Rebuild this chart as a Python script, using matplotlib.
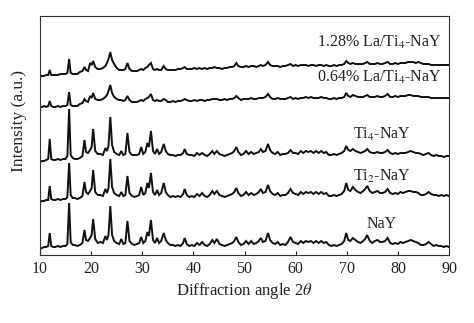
import matplotlib
matplotlib.use("Agg")
import matplotlib.pyplot as plt

plt.rcParams['font.family'] = ['Liberation Serif', 'DejaVu Serif']
plt.rcParams['mathtext.fontset'] = 'stix'

# 2-theta grid (degrees) shared by all patterns
two_theta = [
    10.0, 10.4, 10.8, 11.2, 11.6, 11.9, 12.2, 12.6, 13.0, 13.5, 14.0, 14.5, 15.0, 15.35, 15.7, 16.0, 16.4,
    16.8, 17.3, 17.8, 18.3, 18.7, 19.0, 19.4, 19.8, 20.1, 20.4, 20.8, 21.3, 21.8, 22.3, 22.8, 23.1, 23.4, 23.75, 24.1, 24.5,
    25.0, 25.5, 25.9, 26.3, 26.7, 27.1, 27.5, 28.0, 28.5, 29.0, 29.4, 29.8, 30.2, 30.6, 31.0, 31.3, 31.7, 32.1, 32.5, 32.9,
    33.3, 33.7, 34.2, 34.6, 35.0, 35.5, 36.0,
    36.5, 37.0, 37.5, 38.0, 38.3, 38.7, 39.2, 39.7, 40.2, 40.7, 41.2, 41.7, 42.2, 42.7, 43.2, 43.7, 44.1, 44.6, 45.1, 45.6,
    46.1, 46.6, 47.1, 47.6, 48.0, 48.4, 48.8, 49.3, 49.8, 50.3, 50.8, 51.3, 51.8, 52.3, 52.8, 53.2, 53.6, 54.1, 54.6, 55.0,
    55.5, 56.0, 56.5, 57.0, 57.5, 58.0, 58.5, 59.0, 59.5, 60.0,
    60.5, 61.0, 61.5, 62.0, 62.5, 63.0, 63.5, 64.0, 64.5, 65.0, 65.5, 66.0, 66.5, 67.0, 67.5, 68.0, 68.5, 69.0, 69.5, 69.9,
    70.3, 70.7, 71.2, 71.7, 72.2, 72.7, 73.2, 73.6, 74.0, 74.5, 75.0, 75.5, 76.0, 76.5, 77.0, 77.5, 78.0, 78.5, 79.0, 79.5,
    80.0, 80.5, 81.0, 81.5, 82.0, 82.5, 83.0, 83.5, 84.0, 84.5, 85.0, 85.5, 86.0, 86.5, 87.0, 87.5, 88.0, 88.5, 89.0, 89.5, 90.0,
]

# intensities (a.u.)
nay = [
    6, 7, 8, 8, 9, 22, 9, 8, 8, 9, 8, 9, 9, 11, 52, 13, 10,
    10, 9, 10, 12, 25, 15, 14, 17, 20, 36, 16, 12, 13, 12, 19, 15, 20, 49, 20, 14,
    12, 11, 16, 11, 12, 34, 14, 11, 10, 11, 12, 18, 12, 14, 23, 19, 35, 15, 12, 17,
    12, 14, 22, 15, 12, 10, 10,
    9, 10, 9, 12, 17, 11, 9, 10, 9, 12, 10, 13, 10, 9, 11, 15, 12, 16, 11, 10,
    9, 10, 11, 12, 14, 18, 13, 10, 11, 14, 11, 14, 11, 12, 14, 17, 13, 14, 22, 15,
    12, 11, 13, 10, 11, 10, 13, 18, 13, 12,
    11, 14, 12, 14, 13, 14, 12, 14, 12, 14, 12, 13, 10, 9, 10, 9, 10, 11, 14, 22,
    15, 14, 17, 15, 13, 12, 14, 16, 20, 14, 12, 14, 15, 13, 13, 14, 17, 12, 11, 12,
    11, 13, 12, 13, 14, 15, 14, 13, 12, 10, 10, 11, 13, 11, 9, 10, 9, 9, 8, 9, 8,
]
ti2_nay = [
    7, 8, 8, 9, 9, 23, 10, 9, 9, 10, 9, 10, 10, 12, 46, 14, 11,
    11, 10, 11, 13, 27, 17, 15, 18, 21, 39, 17, 14, 14, 13, 20, 16, 21, 50, 22, 16,
    14, 13, 17, 13, 14, 33, 16, 13, 12, 13, 14, 22, 14, 16, 26, 21, 36, 17, 14, 19,
    14, 16, 26, 17, 14, 12, 13,
    12, 13, 12, 15, 20, 14, 12, 13, 12, 15, 13, 16, 13, 12, 14, 18, 15, 18, 14, 13,
    12, 13, 14, 15, 17, 21, 16, 13, 14, 17, 14, 16, 14, 15, 17, 20, 16, 17, 24, 18,
    15, 14, 16, 13, 14, 14, 16, 20, 16, 15,
    14, 17, 15, 17, 16, 17, 15, 17, 15, 17, 15, 16, 13, 13, 14, 13, 14, 15, 18, 26,
    19, 18, 22, 19, 17, 16, 18, 20, 23, 18, 16, 17, 18, 16, 16, 17, 20, 16, 15, 16,
    15, 17, 16, 17, 18, 18, 17, 17, 16, 14, 14, 15, 17, 15, 14, 14, 13, 14, 13, 14, 13,
]
ti4_nay = [
    7, 8, 8, 9, 10, 30, 10, 9, 9, 10, 9, 10, 10, 13, 60, 14, 11,
    10, 10, 11, 13, 29, 17, 16, 19, 22, 40, 18, 15, 15, 14, 21, 18, 23, 52, 24, 17,
    15, 14, 18, 14, 15, 36, 17, 14, 14, 14, 15, 22, 15, 17, 26, 22, 38, 18, 15, 20,
    15, 17, 25, 18, 15, 14, 14,
    13, 14, 14, 16, 20, 15, 14, 14, 13, 16, 14, 16, 14, 13, 15, 18, 15, 18, 15, 14,
    13, 14, 15, 16, 18, 22, 17, 14, 15, 18, 15, 17, 15, 16, 17, 20, 17, 18, 25, 19,
    16, 15, 17, 14, 15, 15, 16, 19, 16, 16,
    15, 18, 16, 18, 17, 18, 16, 18, 16, 18, 16, 17, 14, 14, 15, 14, 15, 16, 18, 23,
    19, 18, 20, 18, 17, 16, 17, 18, 20, 17, 16, 16, 17, 16, 16, 17, 19, 16, 15, 16,
    15, 16, 16, 16, 17, 18, 17, 16, 16, 15, 14, 15, 16, 14, 13, 14, 13, 13, 12, 13, 13,
]
la064 = [
    8, 8, 9, 8, 9, 14, 9, 8, 8, 9, 8, 9, 9, 10, 23, 10, 9,
    9, 9, 11, 12, 16, 14, 13, 19, 17, 22, 16, 15, 15, 16, 18, 20, 24, 30, 22, 18,
    16, 15, 15, 14, 15, 19, 15, 13, 13, 13, 14, 15, 14, 16, 17, 18, 21, 15, 14, 15,
    14, 14, 16, 15, 13, 13, 14,
    13, 14, 14, 15, 16, 15, 14, 14, 15, 14, 15, 15, 14, 15, 15, 16, 16, 16, 15, 15,
    16, 15, 16, 16, 17, 19, 17, 15, 16, 16, 16, 17, 16, 16, 17, 17, 17, 18, 21, 18,
    16, 16, 17, 16, 16, 16, 17, 18, 16, 17,
    16, 17, 17, 18, 17, 18, 17, 17, 17, 18, 17, 17, 16, 16, 17, 16, 17, 17, 18, 22,
    19, 18, 20, 19, 18, 18, 18, 19, 20, 18, 18, 18, 19, 18, 18, 19, 21, 18, 18, 19,
    18, 19, 19, 19, 20, 20, 19, 19, 19, 18, 18, 18, 18, 17, 17, 17, 17, 17, 17, 17, 17,
]
la128 = [
    6, 7, 7, 8, 8, 13, 8, 8, 8, 8, 9, 9, 9, 10, 24, 10, 9,
    9, 9, 11, 12, 16, 13, 12, 20, 18, 22, 16, 14, 14, 15, 17, 20, 24, 31, 23, 19,
    15, 13, 13, 13, 14, 20, 14, 12, 12, 12, 13, 14, 13, 15, 16, 18, 20, 14, 13, 14,
    13, 13, 17, 14, 13, 13, 13,
    13, 14, 14, 15, 16, 14, 14, 14, 15, 14, 15, 14, 15, 14, 15, 15, 16, 15, 15, 14,
    15, 15, 16, 16, 17, 20, 17, 16, 16, 17, 16, 17, 17, 16, 17, 18, 17, 18, 21, 18,
    17, 17, 17, 16, 17, 17, 18, 19, 17, 18,
    17, 18, 18, 18, 17, 18, 18, 17, 18, 18, 17, 18, 17, 17, 18, 17, 18, 18, 19, 22,
    20, 19, 20, 19, 19, 19, 19, 20, 21, 19, 19, 19, 20, 19, 19, 20, 21, 19, 19, 20,
    19, 20, 20, 20, 21, 21, 21, 20, 21, 20, 19, 19, 19, 18, 18, 18, 18, 18, 18, 18, 18,
]

patterns = [nay, ti2_nay, ti4_nay, la064, la128]
labels = ['NaY', 'Ti$_2$-NaY', 'Ti$_4$-NaY', r'0.64% La/Ti$_4$-NaY', r'1.28% La/Ti$_4$-NaY']
offsets = [0, 46, 86, 140, 172]
label_pos = [(76.8, 31, 'center'), (76.8, 78.5, 'center'), (76.8, 121, 'center'),
             (88.6, 177.5, 'right'), (88.6, 212.5, 'right')]

for p in patterns:
    assert len(p) == len(two_theta), len(p)

fig = plt.figure(figsize=(4.74, 3.23), dpi=100)
ax = fig.add_axes([40 / 474, 68 / 323, 409 / 474, 239 / 323])

for y, off in zip(patterns, offsets):
    ax.plot(two_theta, [v + off for v in y], color='#111111', lw=1.4, solid_joinstyle='miter')

for lab, (x, y, ha) in zip(labels, label_pos):
    ax.text(x, y, lab, ha=ha, va='center', fontsize=11.5, color='#222222')

ax.set_xlim(10, 90)
ax.set_ylim(0, 239)
ax.set_xticks([10, 20, 30, 40, 50, 60, 70, 80, 90])
ax.set_yticks([])
ax.tick_params(axis='x', direction='in', length=3, width=0.8, labelsize=11.5, pad=4, colors='#222222')
for s in ax.spines.values():
    s.set_linewidth(0.8)
    s.set_color('#333333')
ax.set_xlabel(r'Diffraction angle 2$\theta$', fontsize=12, labelpad=3, color='#222222')
ax.set_ylabel('Intensity (a.u.)', fontsize=12.5, color='#222222')
ax.yaxis.set_label_coords(-0.032, 0.56)

fig.savefig('out.png', dpi=100)
